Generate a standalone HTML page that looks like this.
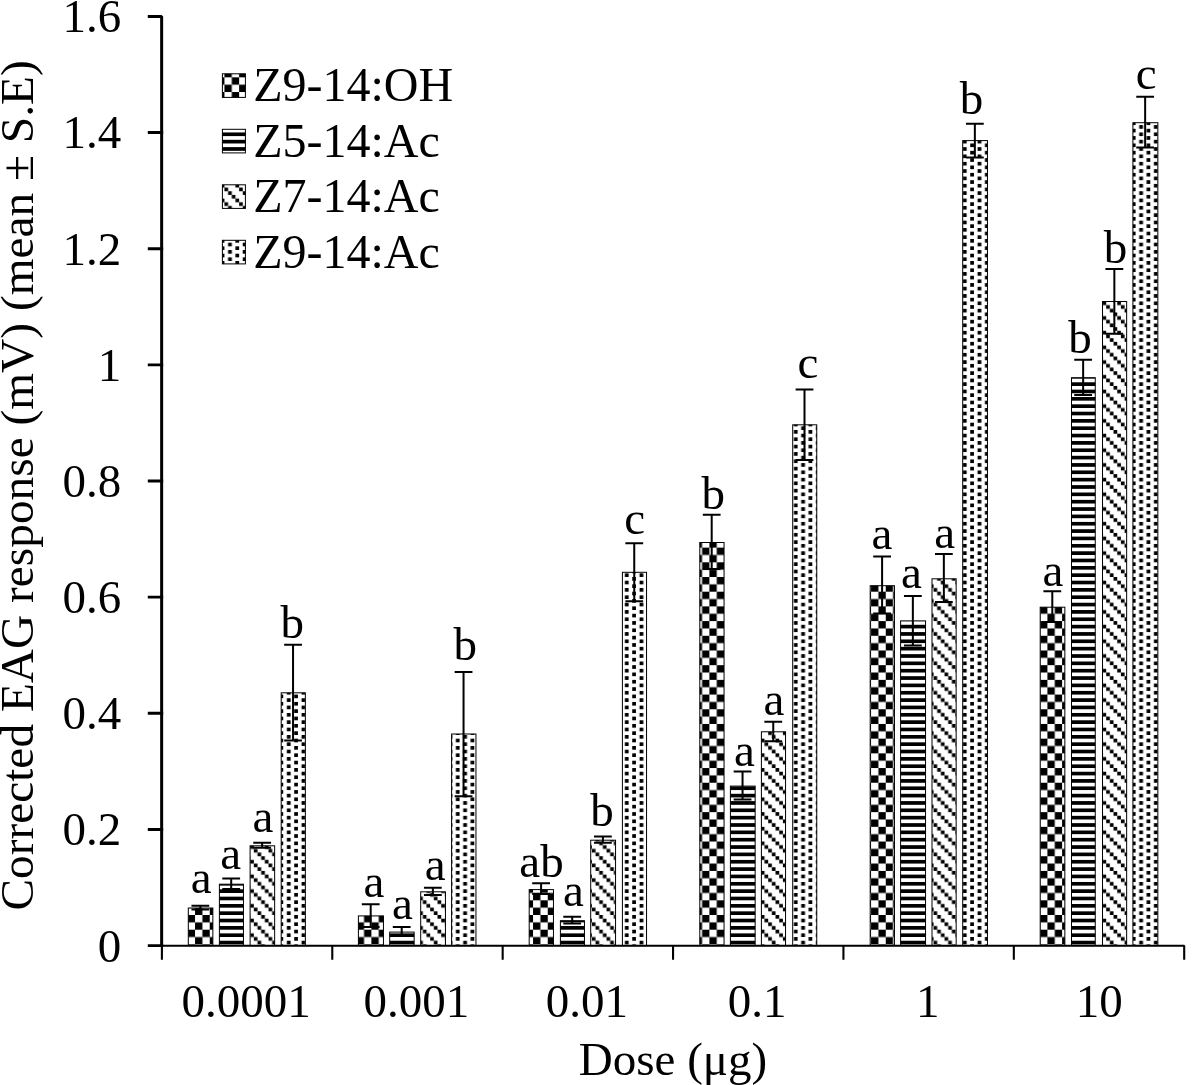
<!DOCTYPE html>
<html lang="en"><head><meta charset="utf-8"><title>Corrected EAG response vs dose</title>
<style>
html,body{margin:0;padding:0;background:#fff;}
body{width:1200px;height:1085px;overflow:hidden;}
svg{display:block;}
text{font-kerning:none;font-family:"Liberation Serif","Times New Roman",Times,serif;font-size:47px;fill:#000;}
</style></head><body>
<svg width="1200" height="1085" viewBox="0 0 1200 1085">
<defs>
<pattern id="pchk" patternUnits="userSpaceOnUse" width="4" height="4" patternTransform="translate(4 3.86) scale(3.674)">
<rect width="4" height="4" fill="#fff"/><rect x="2" y="0" width="2" height="2" fill="#000"/><rect x="0" y="2" width="2" height="2" fill="#000"/></pattern>
<pattern id="phor" patternUnits="userSpaceOnUse" width="4" height="2" patternTransform="translate(4 3.86) scale(3.674)">
<rect width="4" height="2" fill="#fff"/><rect x="0" y="1" width="4" height="1" fill="#000"/></pattern>
<pattern id="pdia" patternUnits="userSpaceOnUse" width="4" height="4" patternTransform="translate(4 3.86) scale(3.674)">
<rect width="4" height="4" fill="#fff"/>
<rect x="2" y="0" width="1" height="1" fill="#000"/>
<rect x="3" y="1" width="1" height="1" fill="#000"/>
<rect x="0" y="2" width="1" height="1" fill="#000"/>
<rect x="1" y="3" width="1" height="1" fill="#000"/>
</pattern>
<pattern id="pdot" patternUnits="userSpaceOnUse" width="4" height="2" patternTransform="translate(4 3.86) scale(3.674)">
<rect width="4" height="2" fill="#fff"/><rect x="0.99" y="1.01" width="1.03" height="0.98" rx="0.08" fill="#000"/><rect x="2.99" y="0.01" width="1.03" height="0.98" rx="0.08" fill="#000"/></pattern>
</defs>
<rect width="1200" height="1085" fill="#fff"/>
<g stroke="#000" stroke-width="1">
<rect x="188.3" y="908" width="24.55" height="37.6" fill="url(#pchk)"/>
<rect x="219.4" y="884.2" width="24.05" height="61.4" fill="url(#phor)"/>
<rect x="250.1" y="845.8" width="24.55" height="99.8" fill="url(#pdia)"/>
<rect x="281.2" y="692.8" width="24.15" height="252.8" fill="url(#pdot)"/>
<rect x="358.4" y="915.9" width="25.05" height="29.7" fill="url(#pchk)"/>
<rect x="389.7" y="932.1" width="24.45" height="13.5" fill="url(#phor)"/>
<rect x="420.7" y="891.8" width="24.75" height="53.8" fill="url(#pdia)"/>
<rect x="451.6" y="734" width="24.35" height="211.6" fill="url(#pdot)"/>
<rect x="529.2" y="889.6" width="24.25" height="56" fill="url(#pchk)"/>
<rect x="560.4" y="920.7" width="24.05" height="24.9" fill="url(#phor)"/>
<rect x="590.7" y="840.2" width="24.85" height="105.4" fill="url(#pdia)"/>
<rect x="622.4" y="572.3" width="24.15" height="373.3" fill="url(#pdot)"/>
<rect x="699.8" y="542.5" width="24.25" height="403.1" fill="url(#pchk)"/>
<rect x="730.4" y="786.1" width="24.75" height="159.5" fill="url(#phor)"/>
<rect x="761.4" y="731.8" width="24.15" height="213.8" fill="url(#pdia)"/>
<rect x="792.7" y="424.8" width="24.05" height="520.8" fill="url(#pdot)"/>
<rect x="870.2" y="585.7" width="24.25" height="359.9" fill="url(#pchk)"/>
<rect x="900.6" y="620.9" width="24.95" height="324.7" fill="url(#phor)"/>
<rect x="932" y="578.8" width="24.15" height="366.8" fill="url(#pdia)"/>
<rect x="962.7" y="140.6" width="24.75" height="805" fill="url(#pdot)"/>
<rect x="1040.2" y="607.2" width="24.65" height="338.4" fill="url(#pchk)"/>
<rect x="1071.5" y="377.7" width="23.75" height="567.9" fill="url(#phor)"/>
<rect x="1102.5" y="301.5" width="24.15" height="644.1" fill="url(#pdia)"/>
<rect x="1132.9" y="122.7" width="24.95" height="822.9" fill="url(#pdot)"/>
</g>
<g stroke="#000" stroke-width="2" fill="none">
<path d="M191.45 905.7H209.25M200.35 905.7V909.5M191.45 909.5H209.25"/>
<path d="M222.3 878.5H240.1M231.2 878.5V889.1M222.3 889.1H240.1"/>
<path d="M253.25 842.7H271.05M262.15 842.7V847.8M253.25 847.8H271.05"/>
<path d="M284.15 644.8H301.95M293.05 644.8V740.6M284.15 740.6H301.95"/>
<path d="M361.8 904.3H379.6M370.7 904.3V926.9M361.8 926.9H379.6"/>
<path d="M392.8 926.9H410.6M401.7 926.9V936M392.8 936H410.6"/>
<path d="M423.95 887.8H441.75M432.85 887.8V895M423.95 895H441.75"/>
<path d="M454.65 672.1H472.45M463.55 672.1V796.2M454.65 796.2H472.45"/>
<path d="M532.2 883.2H550M541.1 883.2V894M532.2 894H550"/>
<path d="M563.3 916.8H581.1M572.2 916.8V923.5M563.3 923.5H581.1"/>
<path d="M594 836.5H611.8M602.9 836.5V842.8M594 842.8H611.8"/>
<path d="M625.35 543.2H643.15M634.25 543.2V601.3M625.35 601.3H643.15"/>
<path d="M702.8 514.7H720.6M711.7 514.7V569.1M702.8 569.1H720.6"/>
<path d="M733.65 771.4H751.45M742.55 771.4V799.6M733.65 799.6H751.45"/>
<path d="M764.35 721.7H782.15M773.25 721.7V741.3M764.35 741.3H782.15"/>
<path d="M795.6 389.5H813.4M804.5 389.5V460M795.6 460H813.4"/>
<path d="M873.2 556.6H891M882.1 556.6V613.4M873.2 613.4H891"/>
<path d="M903.95 595.9H921.75M912.85 595.9V645.6M903.95 645.6H921.75"/>
<path d="M934.95 554H952.75M943.85 554V601.9M934.95 601.9H952.75"/>
<path d="M965.95 123.7H983.75M974.85 123.7V157.5M965.95 157.5H983.75"/>
<path d="M1043.4 591.2H1061.2M1052.3 591.2V622M1043.4 622H1061.2"/>
<path d="M1074.25 359.7H1092.05M1083.15 359.7V395.1M1074.25 395.1H1092.05"/>
<path d="M1105.45 268.9H1123.25M1114.35 268.9V333.7M1105.45 333.7H1123.25"/>
<path d="M1136.25 96.8H1154.05M1145.15 96.8V147.6M1136.25 147.6H1154.05"/>
</g>
<g stroke="#000" fill="none">
<path d="M147.8 16.4H161.65 V947" stroke-width="3" stroke-linejoin="bevel"/>
<path d="M147.8 945.6H163.15M147.8 829.45H163.15M147.8 713.3H163.15M147.8 597.15H163.15M147.8 481H163.15M147.8 364.85H163.15M147.8 248.7H163.15M147.8 132.55H163.15" stroke-width="2.9"/>
<path d="M161.65 945.7H1184.2V959.7" stroke-width="2.1" stroke-linejoin="bevel"/>
<path d="M161.9 945.6V959.7M332.28 945.6V959.7M502.67 945.6V959.7M673.05 945.6V959.7M843.43 945.6V959.7M1013.82 945.6V959.7" stroke-width="2.1"/>
</g>
<g text-anchor="end">
<text x="121.2" y="961.5">0</text>
<text x="121.2" y="845.35">0.2</text>
<text x="121.2" y="729.2">0.4</text>
<text x="121.2" y="613.05">0.6</text>
<text x="121.2" y="496.9">0.8</text>
<text x="121.2" y="380.75">1</text>
<text x="121.2" y="264.6">1.2</text>
<text x="121.2" y="148.45">1.4</text>
<text x="121.2" y="32.3">1.6</text>
</g>
<g text-anchor="middle">
<text x="246.09" y="1017.3">0.0001</text>
<text x="416.48" y="1017.3">0.001</text>
<text x="586.86" y="1017.3">0.01</text>
<text x="757.24" y="1017.3">0.1</text>
<text x="927.63" y="1017.3">1</text>
<text x="1099.31" y="1017.3">10</text>
<text x="673" y="1075">Dose (μg)</text>
</g>
<text transform="translate(33 485.45) rotate(-90)" text-anchor="middle" style="font-size:47.35px">Corrected EAG response (mV) (mean ± S.E)</text>
<rect x="222.4" y="73.8" width="23" height="23.6" fill="url(#pchk)" stroke="#000" stroke-width="1"/>
<text x="253.2" y="101.3" style="font-size:48px">Z9-14:OH</text>
<rect x="222.4" y="129.3" width="23" height="23.6" fill="url(#phor)" stroke="#000" stroke-width="1"/>
<text x="253.2" y="156.8" style="font-size:48px">Z5-14:Ac</text>
<rect x="222.4" y="184.8" width="23" height="23.6" fill="url(#pdia)" stroke="#000" stroke-width="1"/>
<text x="253.2" y="212.3" style="font-size:48px">Z7-14:Ac</text>
<rect x="222.4" y="240.3" width="23" height="23.6" fill="url(#pdot)" stroke="#000" stroke-width="1"/>
<text x="253.2" y="267.8" style="font-size:48px">Z9-14:Ac</text>
<g text-anchor="middle">
<text x="201.2" y="893.2">a</text>
<text x="230.7" y="869.2">a</text>
<text x="262.9" y="832">a</text>
<text x="292.25" y="638.4">b</text>
<text x="374.05" y="897.4">a</text>
<text x="402.55" y="918.6">a</text>
<text x="435.15" y="879.5">a</text>
<text x="465.15" y="660.1">b</text>
<text x="541.5" y="877">ab</text>
<text x="573.4" y="905.8">a</text>
<text x="601.95" y="826.4">b</text>
<text x="634.7" y="533.5">c</text>
<text x="713.35" y="509.2">b</text>
<text x="744.55" y="766">a</text>
<text x="773.9" y="715.1">a</text>
<text x="807.85" y="378.3">c</text>
<text x="881.95" y="549.4">a</text>
<text x="911.5" y="587.9">a</text>
<text x="944.75" y="547.6">a</text>
<text x="971.6" y="113.5">b</text>
<text x="1053" y="585.7">a</text>
<text x="1079.9" y="352.7">b</text>
<text x="1115.4" y="263.3">b</text>
<text x="1146.1" y="88.6">c</text>
</g>
</svg>
</body></html>
